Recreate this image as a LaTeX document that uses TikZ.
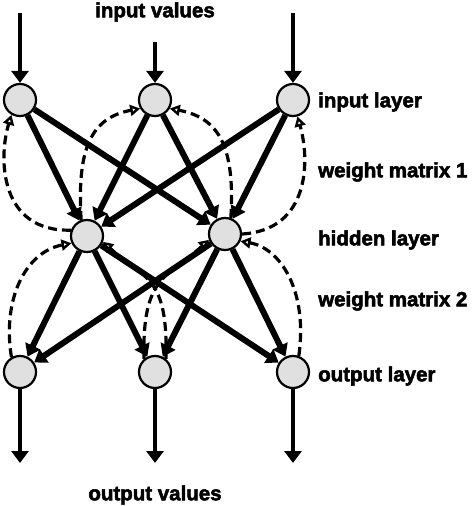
\documentclass[tikz,border=0pt]{standalone}
\usepackage{fontspec}
\setmainfont{Liberation Sans}
\newfontfamily\heavyfont{Liberation Sans Bold}[FakeBold=2.5]
\usetikzlibrary{arrows.meta}
\definecolor{nfill}{RGB}{224,224,224}
\tikzset{
  neuron/.style={circle,draw=black,fill=nfill,line width=2.2pt,minimum size=32pt,inner sep=0pt},
  fwd/.style={line width=6pt,-{Triangle[length=12pt,width=16pt]}},
  io/.style={line width=4pt,-{Triangle[length=12pt,width=17pt]}},
  back/.style={line width=3.2pt,dash pattern=on 9pt off 5pt,-{Triangle[open,length=10pt,width=11pt,line width=2.4pt]}},
  lbl/.style={font=\heavyfont\fontsize{20.5}{20.5}\selectfont,inner sep=0pt}
}
\begin{document}
\begin{tikzpicture}[x=1pt,y=-1pt]
\useasboundingbox (0,0) rectangle (474,506);
% neurons
\node[neuron] (Li) at (20,100) {};
\node[neuron] (Mi) at (155,100) {};
\node[neuron] (Ri) at (293,100) {};
\node[neuron] (Lh) at (87,236) {};
\node[neuron] (Rh) at (225,234) {};
\node[neuron] (Lo) at (20,372) {};
\node[neuron] (Mo) at (155,372) {};
\node[neuron] (Ro) at (293,372) {};
% in/out terminals
\coordinate (tL) at (20,13);
\coordinate (tM) at (155,42);
\coordinate (tR) at (293,13);
\coordinate (bL) at (20,463);
\coordinate (bM) at (155,463);
\coordinate (bR) at (293,463);
\draw[io] (tL) -- (Li);
\draw[io] (tM) -- (Mi);
\draw[io] (tR) -- (Ri);
\draw[io] (Lo) -- (bL);
\draw[io] (Mo) -- (bM);
\draw[io] (Ro) -- (bR);
% forward weights
\foreach \a in {Li,Mi,Ri}{\foreach \b in {Lh,Rh}{\draw[fwd] (\a) -- (\b);}}
\foreach \a in {Lh,Rh}{\foreach \b in {Lo,Mo,Ro}{\draw[fwd] (\a) -- (\b);}}
% backward (dashed) upper
\draw[back] (Lh.160) .. controls (0,232) and (-2,159) .. (Li.240);
\draw[back] (Lh.110) .. controls (77,150) and (90,118) .. (Mi.210);
\draw[back] (Rh.70) .. controls (235,148) and (220,118) .. (Mi.330);
\draw[back] (Rh.0) .. controls (310,230) and (310,160) .. (Ri.285);
% backward (dashed) lower
\draw[back] (Lo.120) .. controls (2,300) and (25,252) .. (Lh.205);
\draw[back] (Mo.50) .. controls (168,275) and (145,280) .. (Lh.340);
\draw[back] (Mo.130) .. controls (142,275) and (167,278) .. (Rh.200);
\draw[back] (Ro.70) .. controls (308,290) and (280,248) .. (Rh.335);
% labels
\node[lbl] (tin) at (155,12) {input values};
\node[lbl] (tout) at (155,495) {output values};
\node[lbl,anchor=west] (til) at (318,102) {input layer};
\node[lbl,anchor=west] (tw1) at (318,172) {weight matrix 1};
\node[lbl,anchor=west] (thl) at (318,240) {hidden layer};
\node[lbl,anchor=west] (tw2) at (318,301) {weight matrix 2};
\node[lbl,anchor=west] (tol) at (318,376) {output layer};
\end{tikzpicture}
\end{document}
